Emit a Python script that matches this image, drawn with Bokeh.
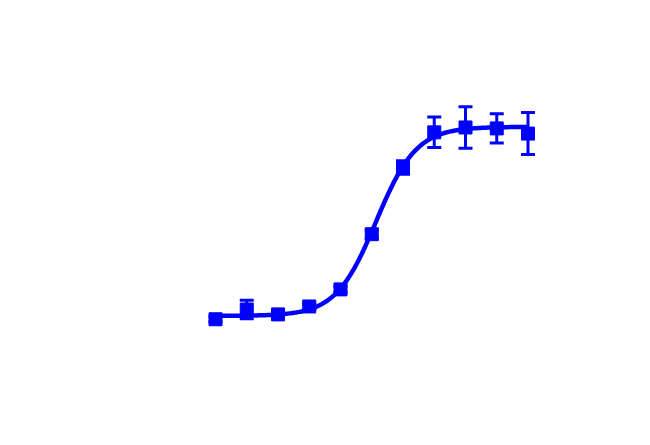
import numpy as np
from bokeh.plotting import figure
from bokeh.models import (ColumnDataSource, FixedTicker, CustomJSTickFormatter,
                          Whisker, Range1d)
from bokeh.embed import file_html
from bokeh.resources import INLINE

# Data
log_conc = [-11.5, -11.0, -10.5, -10.0, -9.5, -9.0, -8.5, -8.0, -7.5, -7.0, -6.5]
rlu_mean = [445, 605, 525, 655, 935, 1840, 2935, 3510, 3590, 3575, 3490]
rlu_err = [40, 150, 40, 50, 50, 70, 110, 250, 340, 240, 345]

# Fitted 4-parameter logistic curve parameters
fit_bottom = 500
fit_top = 3600
fit_log_ec50 = -8.93
fit_hill = 1.35

x_ticks = [-13, -12, -11, -10, -9, -8, -7, -6]
y_ticks = [0, 1000, 2000, 3000, 4000, 5000]

x_label = "Neuromedin B, M"
y_label = "RLU"

curve_x = np.linspace(log_conc[0], log_conc[-1], 300)
curve_y = fit_bottom + (fit_top - fit_bottom) / (1 + 10 ** ((fit_log_ec50 - curve_x) * fit_hill))

src = ColumnDataSource(dict(
    x=log_conc, y=rlu_mean,
    lower=[m - e for m, e in zip(rlu_mean, rlu_err)],
    upper=[m + e for m, e in zip(rlu_mean, rlu_err)],
))

p = figure(width=634, height=429, output_backend="svg", toolbar_location=None,
           x_range=Range1d(-13.1, -5.9), y_range=Range1d(-100, 5000),
           min_border_left=115, min_border_right=69, min_border_top=41,
           min_border_bottom=77)
p.background_fill_color = "white"
p.border_fill_color = "white"
p.outline_line_color = None
p.grid.visible = False

p.line(curve_x, curve_y, line_color="#0000ff", line_width=4.5)

w = Whisker(source=src, base="x", lower="lower", upper="upper",
            line_color="#0000ff", line_width=3)
w.upper_head.size = 14
w.lower_head.size = 14
w.upper_head.line_color = "#0000ff"
w.lower_head.line_color = "#0000ff"
w.upper_head.line_width = 3
w.lower_head.line_width = 3
p.add_layout(w)

p.scatter("x", "y", source=src, marker="square", size=13,
          fill_color="#0000ff", line_color="#0000ff")

p.xaxis.ticker = FixedTicker(ticks=x_ticks)
p.xaxis.formatter = CustomJSTickFormatter(code="""
const sup = {'-':'\u207b','0':'\u2070','1':'\u00b9','2':'\u00b2','3':'\u00b3','4':'\u2074','5':'\u2075','6':'\u2076','7':'\u2077','8':'\u2078','9':'\u2079'};
const s = String(Math.round(tick));
let out = '';
for (const c of s) out += sup[c];
return '10' + out;
""")
p.yaxis.ticker = FixedTicker(ticks=y_ticks)

p.xaxis.axis_label = x_label
p.yaxis.axis_label = y_label

for ax in [p.xaxis, p.yaxis]:
    ax.axis_line_color = None
    ax.major_tick_line_color = None
    ax.minor_tick_line_color = None
    ax.major_tick_out = 0
    ax.major_label_text_color = "white"
    ax.major_label_text_font = "Liberation Sans"
    ax.major_label_text_font_style = "bold"
    ax.major_label_text_font_size = "21px"
    ax.axis_label_text_color = "white"
    ax.axis_label_text_font = "Liberation Sans"
    ax.axis_label_text_font_style = "bold"
    ax.axis_label_text_font_size = "21px"
    ax.major_label_standoff = 8

p.xaxis.axis_label_standoff = 10
p.yaxis.axis_label_standoff = 12

open("out.html", "w").write(file_html(p, INLINE))
